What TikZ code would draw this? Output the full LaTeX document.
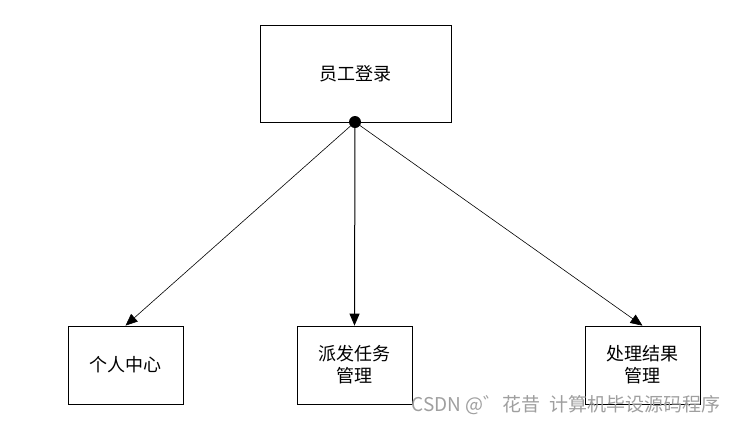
\documentclass[tikz,border=0pt]{standalone}
\usepackage{fontspec}
\newfontfamily\cjk{Noto Sans CJK SC}
\usetikzlibrary{arrows.meta}
\begin{document}
\begin{tikzpicture}[x=1pt,y=-1pt,
  box/.style={draw,line width=0.7pt,minimum width=115pt,minimum height=78pt,align=center,font=\cjk\fontsize{18}{22}\selectfont},
  conn/.style={line width=0.6pt,-{Triangle[length=12pt,width=10pt]}}]
\useasboundingbox (0,0) rectangle (737,424);
\node[box,minimum width=191pt,minimum height=97pt] (top) at (355.5,73.5) {员工登录};
\node[box] (a) at (125.5,365) {个人中心};
\node[box] (b) at (354.5,365) {派发任务\\管理};
\node[box] (c) at (642.5,365) {处理结果\\管理};
\coordinate (d) at (355,122);
\fill (d) circle (6pt);
\draw[conn] (d) -- (a.north);
\draw[conn,line width=1pt] (d) -- (b.north);
\draw[conn] (d) -- (c.north);
\node[text=gray!75,font=\cjk\fontsize{19}{22}\selectfont,anchor=east] (w) at (724,405) {CSDN @゛花昔\ \ 计算机毕设源码程序};
\end{tikzpicture}
\end{document}
